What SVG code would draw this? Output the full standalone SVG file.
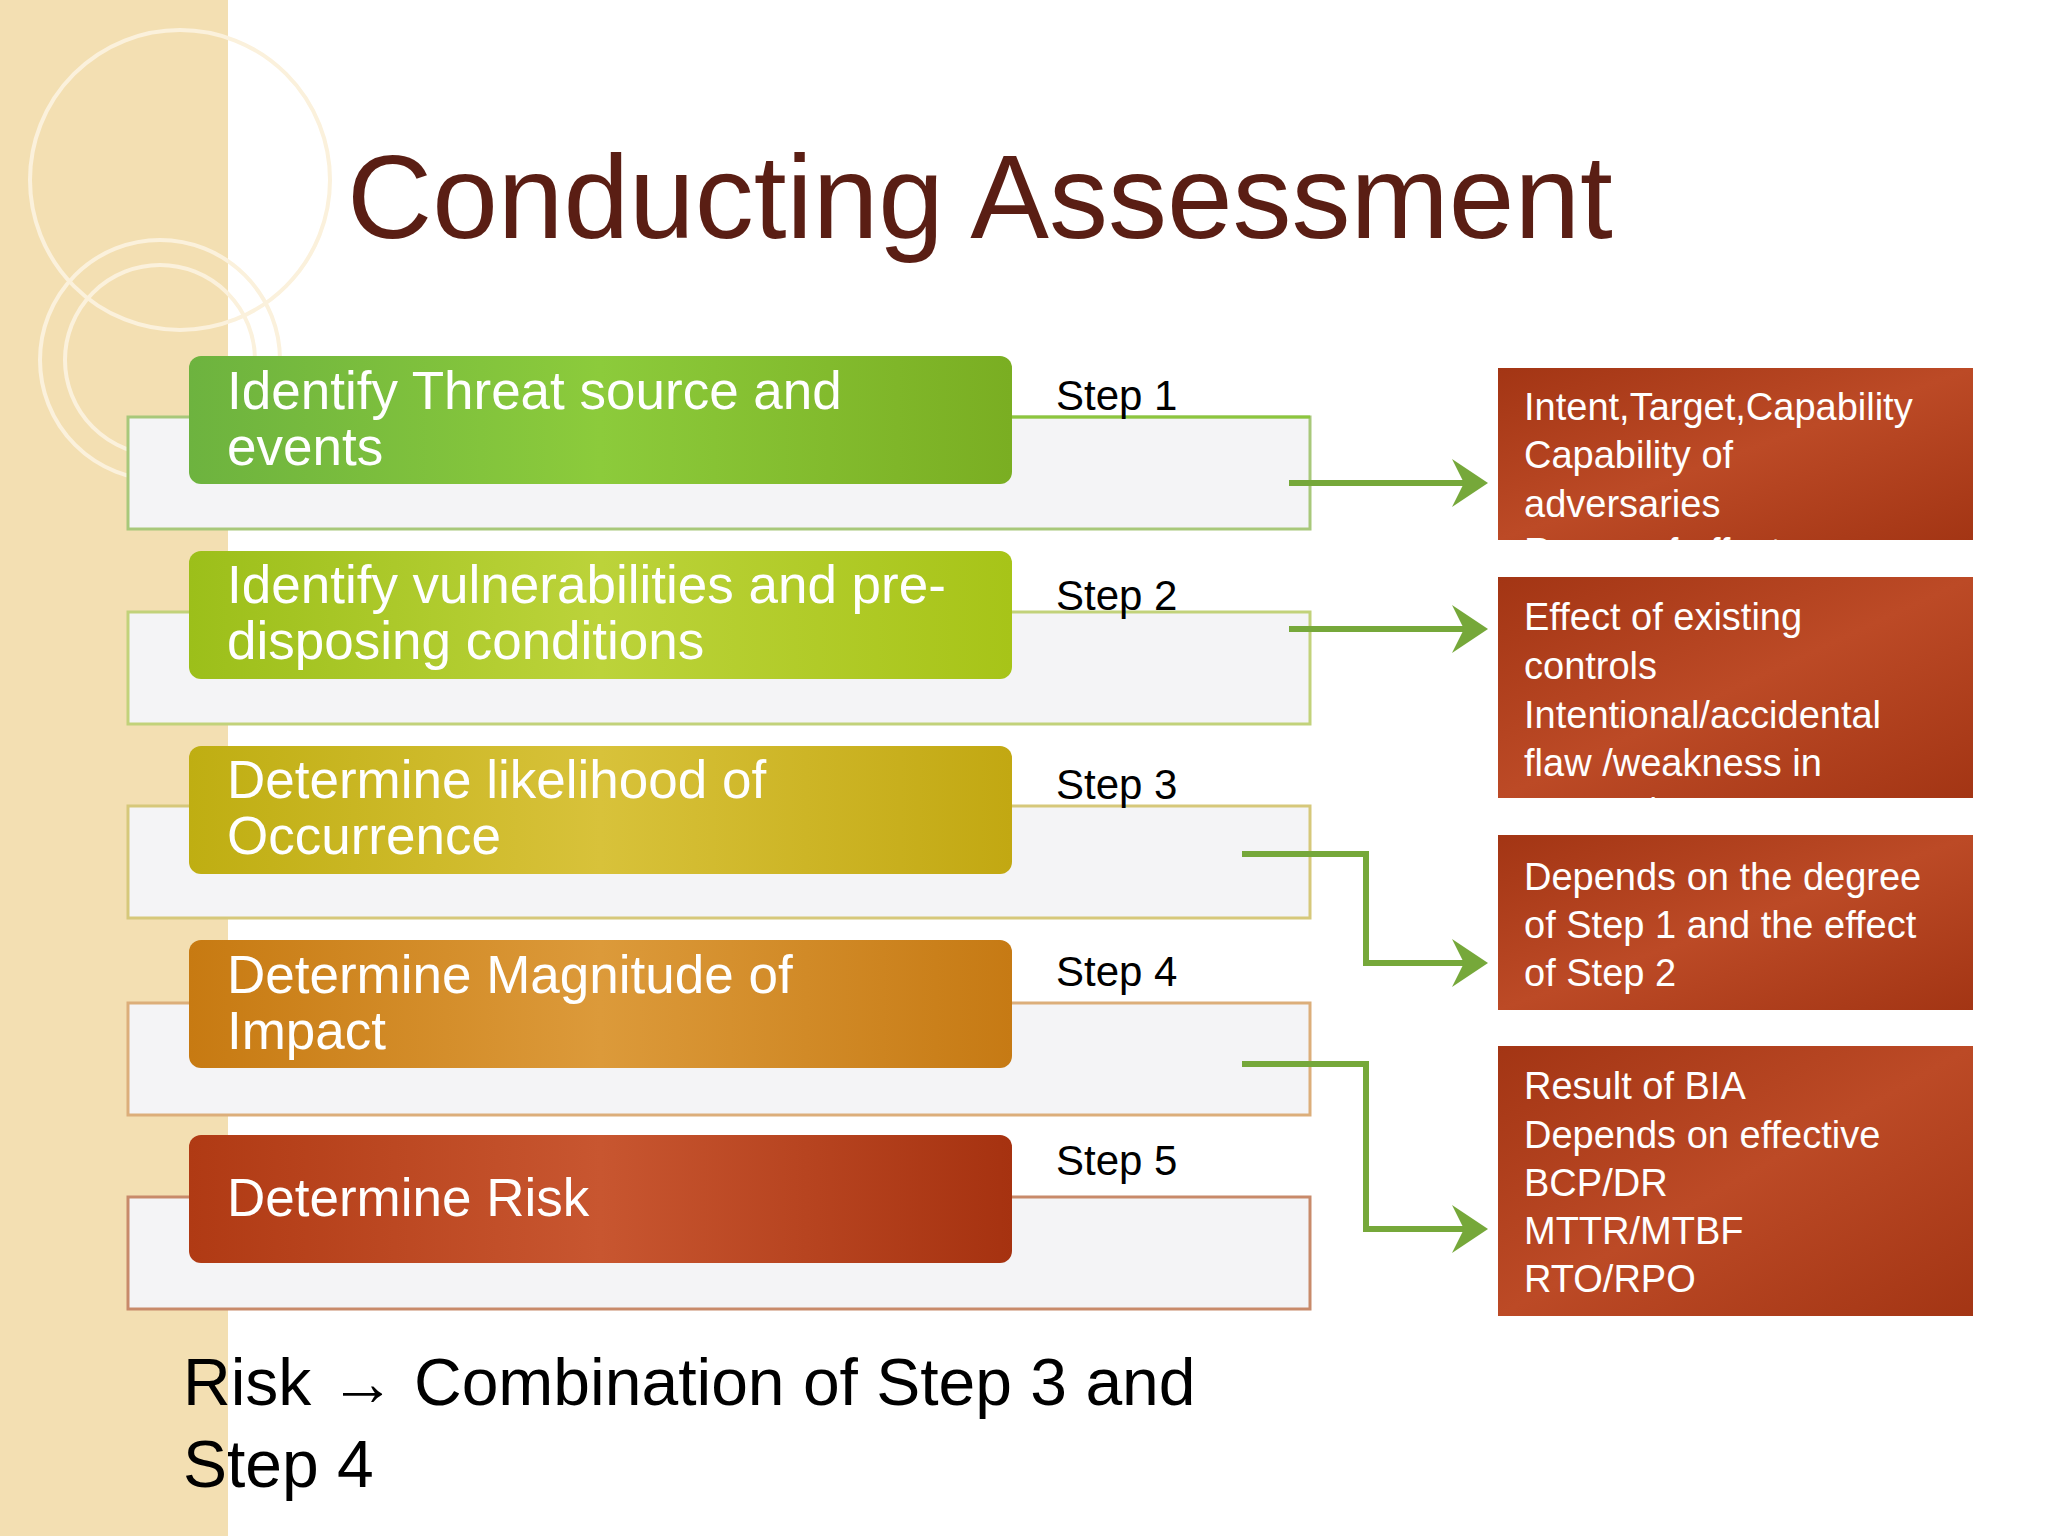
<svg xmlns="http://www.w3.org/2000/svg" width="2048" height="1536" viewBox="0 0 2048 1536">
<defs>
<style>
.bar{stroke:none}
.bt{font-family:"Liberation Sans",Arial,sans-serif;font-size:53px;fill:#fff}
.st{font-family:"Liberation Sans",Arial,sans-serif;font-size:42px;fill:#000}
.rt{font-family:"Liberation Sans",Arial,sans-serif;font-size:38px;fill:#fff}
.wb{fill:#f4f4f6}
.conn{fill:none;stroke:#76a83a;stroke-width:6}
</style>
<marker id="ah" markerWidth="8" markerHeight="8" refX="5" refY="4" orient="auto" markerUnits="strokeWidth"><path d="M0,0 L6,4 L0,8 L2,4 Z" fill="#76a83a"/></marker>
<linearGradient id="g1" x1="0" y1="0" x2="1" y2="0"><stop offset="0" stop-color="#6db33f"/><stop offset="0.5" stop-color="#8ccb3b"/><stop offset="1" stop-color="#7aae22"/></linearGradient>
<linearGradient id="g2" x1="0" y1="0" x2="1" y2="0"><stop offset="0" stop-color="#9cbf1a"/><stop offset="0.5" stop-color="#bcd33a"/><stop offset="1" stop-color="#a7c418"/></linearGradient>
<linearGradient id="g3" x1="0" y1="0" x2="1" y2="0"><stop offset="0" stop-color="#bfae12"/><stop offset="0.5" stop-color="#d8c23a"/><stop offset="1" stop-color="#c2a812"/></linearGradient>
<linearGradient id="g4" x1="0" y1="0" x2="1" y2="0"><stop offset="0" stop-color="#c77a12"/><stop offset="0.5" stop-color="#dc9a3a"/><stop offset="1" stop-color="#c67a14"/></linearGradient>
<linearGradient id="g5" x1="0" y1="0" x2="1" y2="0"><stop offset="0" stop-color="#b03a14"/><stop offset="0.5" stop-color="#c85630"/><stop offset="1" stop-color="#a63210"/></linearGradient>
<linearGradient id="gr" x1="0" y1="0" x2="1" y2="1"><stop offset="0" stop-color="#a33514"/><stop offset="0.5" stop-color="#bc4a26"/><stop offset="1" stop-color="#a33514"/></linearGradient>
</defs>
<rect width="2048" height="1536" fill="#ffffff"/>
<rect x="0" y="0" width="228" height="1536" fill="#f3dfb2"/>
<g fill="none" stroke="#fbf1dc" stroke-width="4">
<circle cx="180" cy="180" r="150"/>
<circle cx="160" cy="360" r="120"/>
<circle cx="160" cy="360" r="95"/>
</g>
<text x="347" y="238" font-family="Liberation Sans,Arial,sans-serif" font-size="118" fill="#5a1e14">Conducting Assessment</text>

<g id="row1"><rect class="wb" x="128" y="417" width="1182" height="112" stroke="#a8c87a" stroke-width="3"/><line x1="1012" y1="417" x2="1310" y2="417" stroke="#8cc63e" stroke-width="3"/><rect x="189" y="356" width="823" height="128" rx="12" fill="url(#g1)"/><text class="bt" x="227" y="409">Identify Threat source and</text><text class="bt" x="227" y="465">events</text><text class="st" x="1056" y="410">Step 1</text></g>
<g id="row2"><rect class="wb" x="128" y="612" width="1182" height="112" stroke="#c2d27a" stroke-width="3"/><rect x="189" y="551" width="823" height="128" rx="12" fill="url(#g2)"/><text class="bt" x="227" y="603">Identify vulnerabilities and pre-</text><text class="bt" x="227" y="659">disposing conditions</text><text class="st" x="1056" y="610">Step 2</text></g>
<g id="row3"><rect class="wb" x="128" y="806" width="1182" height="112" stroke="#d6c87a" stroke-width="3"/><rect x="189" y="746" width="823" height="128" rx="12" fill="url(#g3)"/><text class="bt" x="227" y="798">Determine likelihood of</text><text class="bt" x="227" y="854">Occurrence</text><text class="st" x="1056" y="799">Step 3</text></g>
<g id="row4"><rect class="wb" x="128" y="1003" width="1182" height="112" stroke="#dcae7a" stroke-width="3"/><rect x="189" y="940" width="823" height="128" rx="12" fill="url(#g4)"/><text class="bt" x="227" y="993">Determine Magnitude of</text><text class="bt" x="227" y="1049">Impact</text><text class="st" x="1056" y="986">Step 4</text></g>
<g id="row5"><rect class="wb" x="128" y="1197" width="1182" height="112" stroke="#c88a6a" stroke-width="3"/><rect x="189" y="1135" width="823" height="128" rx="12" fill="url(#g5)"/><text class="bt" x="227" y="1216">Determine Risk</text><text class="st" x="1056" y="1175">Step 5</text></g>

<g id="r1"><rect x="1498" y="368" width="475" height="172" fill="url(#gr)"/><text class="rt" x="1524" y="420">Intent,Target,Capability</text><text class="rt" x="1524" y="468">Capability of</text><text class="rt" x="1524" y="517">adversaries</text><text class="rt" x="1524" y="565" fill="#f0d0c0">Range of effects</text></g>
<g id="r2"><rect x="1498" y="577" width="475" height="221" fill="url(#gr)"/><text class="rt" x="1524" y="630">Effect of existing</text><text class="rt" x="1524" y="679">controls</text><text class="rt" x="1524" y="728">Intentional/accidental</text><text class="rt" x="1524" y="776">flaw /weakness in</text><text class="rt" x="1524" y="825" fill="#f0d0c0">system/process</text></g>
<g id="r3"><rect x="1498" y="835" width="475" height="175" fill="url(#gr)"/><text class="rt" x="1524" y="890">Depends on the degree</text><text class="rt" x="1524" y="938">of Step 1 and  the effect</text><text class="rt" x="1524" y="986">of Step 2</text></g>
<g id="r4"><rect x="1498" y="1046" width="475" height="270" fill="url(#gr)"/><text class="rt" x="1524" y="1099">Result of  BIA</text><text class="rt" x="1524" y="1148">Depends on effective</text><text class="rt" x="1524" y="1196">BCP/DR</text><text class="rt" x="1524" y="1244">MTTR/MTBF</text><text class="rt" x="1524" y="1292">RTO/RPO</text></g>

<g id="connectors">
<path class="conn" d="M1289,483 H1482" marker-end="url(#ah)"/>
<path class="conn" d="M1289,629 H1482" marker-end="url(#ah)"/>
<path class="conn" d="M1242,854 H1366 V963 H1482" marker-end="url(#ah)"/>
<path class="conn" d="M1242,1064 H1366 V1229 H1482" marker-end="url(#ah)"/>
</g>
<text x="183" y="1405" font-family="Liberation Sans,Arial,sans-serif" font-size="66" fill="#000">Risk → Combination of Step 3 and</text>
<text x="183" y="1487" font-family="Liberation Sans,Arial,sans-serif" font-size="66" fill="#000">Step 4</text>
</svg>
